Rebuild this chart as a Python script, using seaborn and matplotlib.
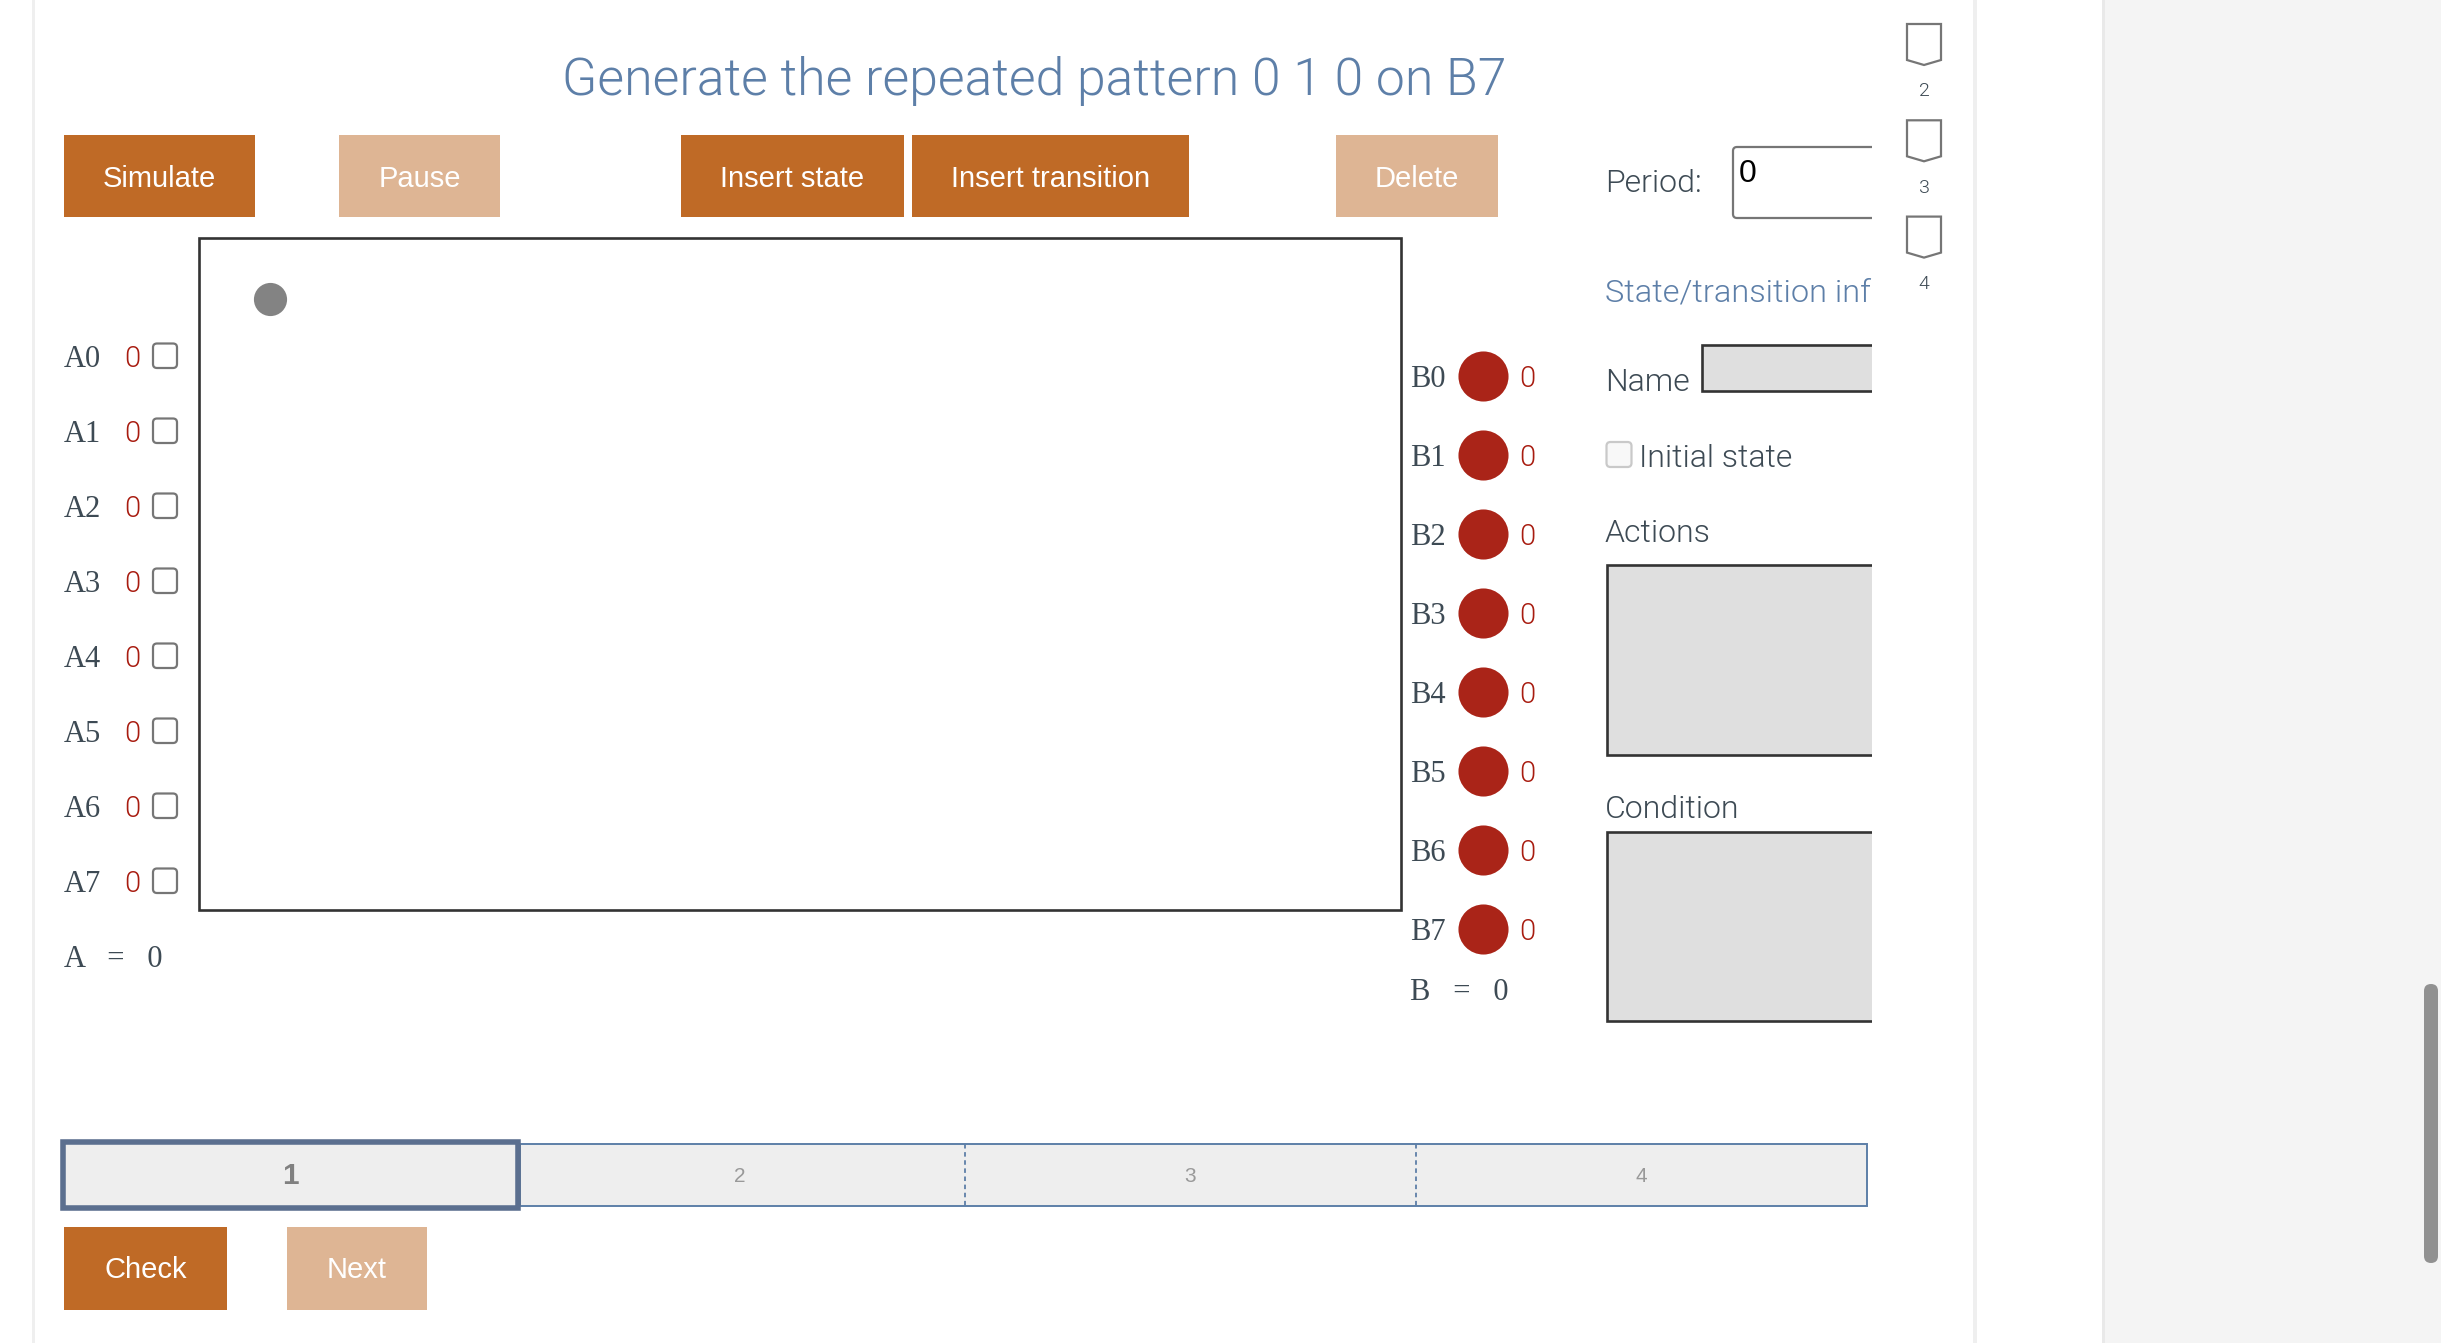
import seaborn as sns
import pandas as pd
from matplotlib import pyplot as plt
from matplotlib.patches import Rectangle, FancyBboxPatch, Polygon

# texts and values shown on the page
title = 'Generate the repeated pattern 0 1 0 on B7'
top_buttons = ['Simulate', 'Pause', 'Insert state', 'Insert transition', 'Delete']
top_enabled = [True, False, True, True, False]
bottom_buttons = ['Check', 'Next']
bottom_enabled = [True, False]
input_labels = ['A0', 'A1', 'A2', 'A3', 'A4', 'A5', 'A6', 'A7']
input_values = [0, 0, 0, 0, 0, 0, 0, 0]
output_labels = ['B0', 'B1', 'B2', 'B3', 'B4', 'B5', 'B6', 'B7']
output_values = [0, 0, 0, 0, 0, 0, 0, 0]
input_total = 0
output_total = 0
period_value = 0
level_labels = ['1', '2', '3', '4']
side_labels = ['1', '2', '3', '4']

ORANGE = '#bf6a26'
PALE = '#deb594'
BLUE = '#5d7fa8'
DARK = '#3d4a54'
RED = '#a81c10'
LED = '#aa2418'
LINE = '#333333'
GREY_BOX = '#dfdfdf'
SLAB = 'Liberation Serif'

sns.set_theme(style='white')
plt.rcParams['font.family'] = ['Roboto', 'DejaVu Sans']

fig = plt.figure(figsize=(24.41, 13.43), dpi=100)
ax = fig.add_axes([0, 0, 1, 1])


def box(x0, y0, x1, y1, face='none', edge='none', lw=0.0, z=2):
    p = Rectangle((x0, y0), x1 - x0, y1 - y0, facecolor=face, edgecolor=edge, linewidth=lw, zorder=z)
    ax.add_patch(p)
    return p


def rounded(x0, y0, x1, y1, face='white', edge='#767676', lw=1.6, r=4):
    p = FancyBboxPatch((x0, y0), x1 - x0, y1 - y0, boxstyle='round,pad=0,rounding_size=%d' % r,
                       facecolor=face, edgecolor=edge, linewidth=lw, zorder=3)
    ax.add_patch(p)
    return p


def label(x, y, s, size, color=DARK, ha='left', family='Roboto', weight=300):
    return ax.text(x, y, s, fontsize=size, color=color, ha=ha, va='baseline',
                   family=[family, 'DejaVu Sans'], fontweight=weight, zorder=5)


def clip_right(artist):
    # the right panel is cut off by its frame
    artist.set_clip_on(True)
    artist.set_clip_path(Rectangle((1500, 0), 372, 1343, transform=ax.transData))


# page background
box(2102, 0, 2441, 1343, face='#f4f4f4')
box(2102, 0, 2105, 1343, face='#e9e9e9')
box(32, 0, 35, 1343, face='#efefef')
box(1973, 0, 1977, 1343, face='#efefef')
ax.add_patch(FancyBboxPatch((2424, 984), 14, 279, boxstyle='round,pad=0,rounding_size=7',
                            facecolor='#919191', edgecolor='none', zorder=2))

label(562, 95.5, title, 37.3, color=BLUE)

# buttons
top_spans = [(64, 255), (339, 500), (681, 904), (912, 1189), (1336, 1498)]
for name, on, (x0, x1) in zip(top_buttons, top_enabled, top_spans):
    box(x0, 135, x1, 217, face=ORANGE if on else PALE)
    label((x0 + x1) / 2, 187, name, 21, color='white', ha='center', family='Liberation Sans', weight='normal')

bottom_spans = [(64, 227), (287, 427)]
for name, on, (x0, x1) in zip(bottom_buttons, bottom_enabled, bottom_spans):
    box(x0, 1227, x1, 1310, face=ORANGE if on else PALE)
    label((x0 + x1) / 2, 1278.5, name, 21, color='white', ha='center', family='Liberation Sans', weight='normal')

# circuit canvas
box(198.5, 238, 1401, 910, face='white', edge=LINE, lw=1.9)
sns.scatterplot(x=[270], y=[299], s=570, color='#838383', linewidth=0, ax=ax, zorder=4, legend=False)

# inputs
for i, (name, val) in enumerate(zip(input_labels, input_values)):
    y = 367 + 75 * i
    label(64, y, name, 22, family=SLAB, weight='normal')
    label(124, y, str(val), 21, color=RED)
    rounded(153, y - 23.5, 177, y + 1)

label(64, 967, 'A   =   %d' % input_total, 22, family=SLAB, weight='normal')

# outputs
led_rows = pd.DataFrame({'name': output_labels, 'value': output_values})
led_rows['y'] = [376 + 79 * i for i in led_rows.index]
led_rows['x'] = 1483
sns.scatterplot(data=led_rows, x='x', y='y', s=1300, color=LED, linewidth=0, ax=ax, zorder=4, legend=False)
for row in led_rows.itertuples():
    label(1410, row.y + 11, row.name, 22, family=SLAB, weight='normal')
    label(1519, row.y + 11, str(row.value), 21, color=RED)

label(1410, 1000, 'B   =   %d' % output_total, 22, family=SLAB, weight='normal')

# right panel
label(1605, 192, 'Period:', 23)
clip_right(rounded(1733, 147, 1900, 218))
label(1739, 182, str(period_value), 23, color='black', family='Liberation Sans', weight='normal')
clip_right(label(1605, 302, 'State/transition info', 23.4, color=BLUE))
label(1605, 391, 'Name', 23)
clip_right(box(1701.5, 345, 1900, 391, face=GREY_BOX, edge=LINE, lw=1.9))
rounded(1606.5, 442, 1631.5, 467, face='#f8f8f8', edge='#c9c9c9')
label(1639, 467, 'Initial state', 23)
label(1605, 542, 'Actions', 23)
clip_right(box(1606.5, 565, 1900, 755, face=GREY_BOX, edge=LINE, lw=1.9))
label(1605, 818, 'Condition', 23)
clip_right(box(1606.5, 832, 1900, 1021, face=GREY_BOX, edge=LINE, lw=1.9))

# level list on the right edge
for i, s in enumerate(side_labels):
    y0 = 24 + 96.3 * (i - 1)
    if i > 0:
        ax.add_patch(Polygon([(1907, y0), (1941, y0), (1941, y0 + 36), (1924, y0 + 41), (1907, y0 + 36)],
                             closed=True, facecolor='white', edgecolor='#767676', linewidth=1.6, zorder=3))
    label(1924, y0 + 72.5, s, 14, ha='center')

# progress bar along the bottom
box(520, 1144, 1867, 1206, face='#eeeeee', edge=BLUE, lw=1.4)
for x in [965, 1416]:
    ax.plot([x, x], [1144, 1206], color=BLUE, linewidth=1.3, linestyle=(0, (2.5, 2)), zorder=3)
box(63, 1142, 518, 1208, face='#eeeeee', edge='#5b6f8f', lw=4.0, z=3)
label(290, 1184, level_labels[0], 21.5, color='#808080', ha='center', family='Liberation Sans', weight='bold')
for x, s in zip([739.5, 1190.5, 1641], level_labels[1:]):
    label(x, 1182, s, 15, color='#999999', ha='center', family='Liberation Sans', weight='normal')

ax.set_xlim(0, 2441)
ax.set_ylim(1343, 0)
ax.axis('off')
fig.savefig('out.png', dpi=100, facecolor='white')
